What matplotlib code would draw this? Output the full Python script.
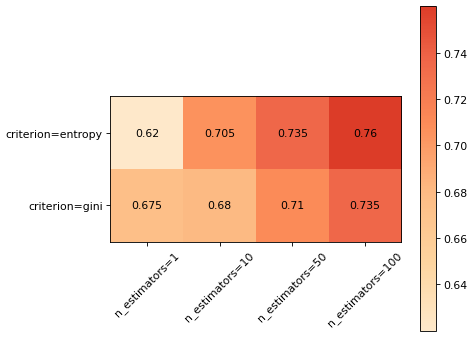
import numpy as np
import matplotlib
matplotlib.use('Agg')
import matplotlib.pyplot as plt
from matplotlib.colors import LinearSegmentedColormap

# Grid search scores: rows are criteria, columns are forest sizes
criteria = ['criterion=entropy', 'criterion=gini']
n_estimators = ['n_estimators=1', 'n_estimators=10', 'n_estimators=50', 'n_estimators=100']
entropy_scores = [0.62, 0.705, 0.735, 0.76]
gini_scores = [0.675, 0.68, 0.71, 0.735]
cbar_ticks = [0.64, 0.66, 0.68, 0.70, 0.72, 0.74]

scores = np.array([entropy_scores, gini_scores])

# Use the middle part of OrRd so the extremes stay light
base = plt.get_cmap('OrRd')
cmap = LinearSegmentedColormap.from_list('orrd_mid', base(np.linspace(0.12, 0.72, 256)))

DPI = 78
fig = plt.figure(figsize=(474 / DPI, 340 / DPI), dpi=DPI)
ax = fig.add_axes([0.232, 0.286, 0.616, 0.428])
cax = fig.add_axes([0.887, 0.024, 0.032, 0.955])

im = ax.imshow(scores, cmap=cmap, vmin=scores.min(), vmax=scores.max())
ax.set_xticks(range(len(n_estimators)))
ax.set_xticklabels(n_estimators, rotation=45)
ax.set_yticks(range(len(criteria)))
ax.set_yticklabels(criteria)

for i in range(scores.shape[0]):
    for j in range(scores.shape[1]):
        ax.text(j, i, str(scores[i, j]), ha='center', va='center', color='black')

cbar = fig.colorbar(im, cax=cax)
cbar.set_ticks(cbar_ticks)

fig.savefig('out.png', dpi=DPI)
